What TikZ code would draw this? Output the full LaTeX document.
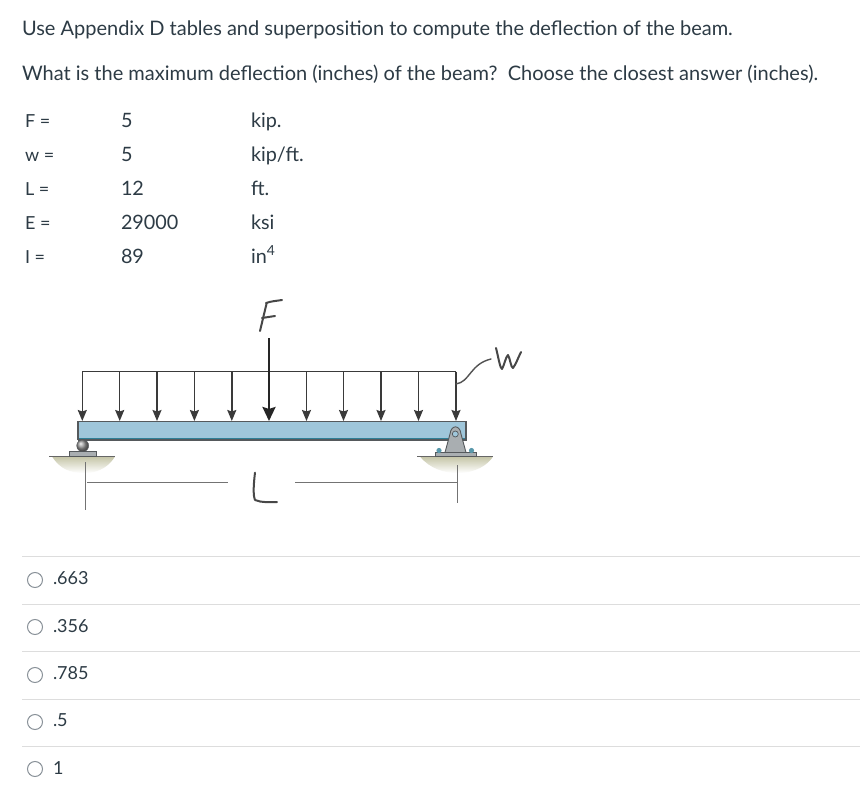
\documentclass[tikz,border=0pt]{standalone}
\usepackage{fontspec}
\setmainfont{Lato}
\usetikzlibrary{arrows.meta}
\definecolor{ink}{HTML}{2D3B45}
\definecolor{beamblue}{HTML}{9FC6DA}
\definecolor{beamedge}{HTML}{2F7F96}
\definecolor{steel}{HTML}{55595C}
\definecolor{load}{HTML}{3A3A3A}
\definecolor{ground}{HTML}{C4C4A6}
\definecolor{pinfill}{HTML}{A9AEB1}
\definecolor{hair}{HTML}{DDDDDD}
\definecolor{radio}{HTML}{8A9299}
\tikzset{
 x=1pt,y=-1pt,
 body/.style={anchor=base west,inner sep=0pt,outer sep=0pt,text=ink,font=\fontsize{20}{24}\selectfont},
 lab/.style={anchor=base west,inner sep=0pt,outer sep=0pt,text=ink,font=\fontsize{18}{22}\selectfont},
 val/.style={anchor=base west,inner sep=0pt,outer sep=0pt,text=ink,font=\fontsize{19.8}{24}\selectfont},
 ans/.style={anchor=base west,inner sep=0pt,outer sep=0pt,text=ink,font=\fontsize{18}{22}\selectfont},
 rule/.style={draw=hair,line width=1pt},
 radiobtn/.style={circle,draw=radio,line width=1pt,minimum size=15pt,inner sep=0pt},
 udl/.style={draw=load,line width=1.4pt,-{Stealth[length=11pt,width=9pt,inset=1.5pt]}},
 dim/.style={draw=black!55,line width=0.8pt},
 hand/.style={draw=black!72,line width=2pt,line cap=round,line join=round},
}
\begin{document}
\begin{tikzpicture}
\useasboundingbox[fill=white] (0,0) rectangle (860,789);
% header
\node[body] (q1) at (22,35.5) {Use Appendix D tables and superposition to compute the deflection of the beam.};
\node[body] (q2) at (22,80.5) {What is the maximum deflection (inches) of the beam?\ \ Choose the closest answer (inches).};
% table
\foreach \n/\y/\a/\b/\c in {f/127.5/F =/5/{kip.}, w/161.5/w =/5/{kip/ft.}, l/195.5/L =/12/{ft.}, e/229.5/E =/29000/{ksi}, i/263.5/I =/89/{in\textsuperscript{4}}}{
 \node[lab] (lab\n) at (25,\y) {\a};
 \node[val] (val\n) at (121,\y) {\b};
 \node[val] (unit\n) at (251,\y) {\c};
}
% ground shading
\shade[top color=ground,bottom color=white] (52,456.5) .. controls (60,469) and (70,473) .. (85,473) .. controls (100,473) and (110,465) .. (115,456.5) -- cycle;
\shade[top color=ground,bottom color=white] (420,456.5) .. controls (430,469) and (445,473) .. (458,473) .. controls (475,473) and (488,465) .. (493,456.5) -- cycle;
\draw[draw=black!60,line width=0.9pt] (49,456.5) -- (115,456.5);
\draw[draw=black!60,line width=0.9pt] (417,456.5) -- (493,456.5);
% beam
\fill[beamblue] (78,421.5) rectangle (466,440);
\fill[beamedge] (78,437.5) rectangle (466,440);
\draw[steel,line width=1.3pt] (78,440) -- (78,421.5) -- (466,421.5) -- (466,440) -- (78,440);
% left roller
\draw[steel,fill=pinfill,line width=0.9pt] (69.5,451.5) rectangle (96,456.5);
\shade[ball color=black!40,draw=steel] (82.7,445.7) circle (6);
% right pin
\draw[steel,fill=pinfill,line width=0.9pt] (435,452.5) rectangle (476,456.5);
\fill[beamedge!80] (439,450.5) circle (2.6);
\fill[beamedge!80] (471.5,450.5) circle (2.6);
\draw[steel,fill=pinfill,line width=0.9pt] (445,452.5) -- (450,434) .. controls (451,424.5) and (460,424.5) .. (461,434) -- (466,452.5) -- cycle;
\draw[steel,fill=beamblue,line width=0.7pt] (455.3,434) circle (3);
% load
\coordinate (ltl) at (82.3,371.7);
\coordinate (ltr) at (456,371.7);
\draw[draw=load,line width=1.3pt] (ltl) -- (ltr);
\foreach \x in {82.3,119.7,157,194.4,231.8,306.5,343.5,381,418.5,456}{
 \draw[udl] (\x,371.7) -- (\x,421);
}
\draw[draw=black!85,line width=2.4pt,-{Stealth[length=14pt,width=13pt,inset=2pt]}] (269,338) -- (269,421);
% dimension
\draw[dim] (85,462) -- (85,510);
\draw[dim] (87,482.5) -- (228,482.5);
\draw[dim] (295,482.7) -- (457.7,482.7);
\draw[dim] (457.7,465) -- (457.7,503);
% handwriting
\draw[hand] (266.7,303) -- (260,331);
\draw[hand] (266,303) .. controls (272,301) and (276,301) .. (282,300);
\draw[hand] (262,318) -- (275,316);
\draw[hand] (255,472.7) .. controls (253.5,485) and (253,495) .. (255,500) .. controls (262,503) and (270,502) .. (277,502);
\draw[hand] (496,348) .. controls (499,360) and (500,368) .. (502,369) .. controls (504,366) and (506,356) .. (508,355) .. controls (510,358) and (511,368) .. (513,368) .. controls (516,364) and (518,358) .. (521,352);
\draw[draw=black!68,line width=1.4pt,line cap=round] (456,384) .. controls (470,382) and (470,364) .. (491,359);
% answers
\foreach \y in {556,604,651.5,699,746}{ \draw[rule] (22,\y) -- (860,\y); }
\foreach \n/\cy/\by/\t in {a/580/584.3/.663, b/627/632/.356, c/675/679.5/.785, d/722/726.7/.5, e/769/774/1}{
 \node[radiobtn] (radio\n) at (35,\cy) {};
 \node[ans] (ans\n) at (53,\by) {\t};
}
\end{tikzpicture}
\end{document}
